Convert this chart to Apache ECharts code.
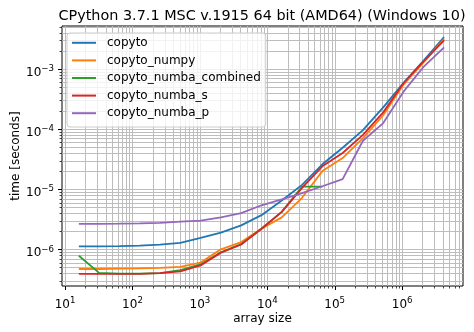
<!DOCTYPE html>
<html>
<head>
<meta charset="utf-8">
<script src="https://cdn.jsdelivr.net/npm/echarts@6/dist/echarts.min.js"></script>
<style>
  html, body { margin: 0; padding: 0; background: #fff; }
  #chart { width: 474px; height: 332px; }
</style>
</head>
<body>
<div id="chart"></div>
<script>
// Array sizes (powers of two) and measured copy times in seconds
const sizes = [16, 32, 64, 128, 256, 512, 1024, 2048, 4096, 8192, 16384, 32768,
  65536, 131072, 262144, 524288, 1048576, 2097152, 4194304];

const copyto = [1.12e-6, 1.12e-6, 1.13e-6, 1.15e-6, 1.2e-6, 1.28e-6, 1.55e-6, 1.9e-6,
  2.5e-6, 3.7e-6, 6.5e-6, 1.18e-5, 2.6e-5, 4.9e-5, 9.6e-5, 2.3e-4, 5.9e-4, 1.4e-3, 3.4e-3];

const copytoNumpy = [4.7e-7, 4.7e-7, 4.75e-7, 4.8e-7, 4.9e-7, 5.1e-7, 6.0e-7, 1.0e-6,
  1.32e-6, 2.2e-6, 3.4e-6, 7.2e-6, 2.0e-5, 3.3e-5, 7.1e-5, 1.7e-4, 5.5e-4, 1.3e-3, 3.15e-3];

const copytoNumbaCombined = [7.8e-7, 4.05e-7, 3.95e-7, 3.95e-7, 4.0e-7, 4.5e-7, 5.6e-7,
  8.9e-7, 1.22e-6, 2.2e-6, 4.2e-6, 1.1e-5, 1.1e-5];

const copytoNumbaS = [3.9e-7, 3.9e-7, 3.9e-7, 3.9e-7, 4.0e-7, 4.3e-7, 5.4e-7, 8.8e-7,
  1.2e-6, 2.2e-6, 4.2e-6, 1.05e-5, 2.4e-5, 4.0e-5, 8.0e-5, 1.9e-4, 5.8e-4, 1.35e-3, 3.0e-3];

const copytoNumbaP = [2.65e-6, 2.65e-6, 2.67e-6, 2.7e-6, 2.75e-6, 2.88e-6, 3.0e-6, 3.4e-6,
  4.0e-6, 5.4e-6, 6.8e-6, 8.6e-6, 1.12e-5, 1.47e-5, 6.4e-5, 1.26e-4, 4.2e-4, 1.1e-3, 2.3e-3];

const seriesNames = ['copyto', 'copyto_numpy', 'copyto_numba_combined', 'copyto_numba_s', 'copyto_numba_p'];
const seriesValues = [copyto, copytoNumpy, copytoNumbaCombined, copytoNumbaS, copytoNumbaP];
const seriesColors = ['#1f77b4', '#ff7f0e', '#2ca02c', '#d62728', '#9467bd'];

// Axis ranges
const xMin = 9.0, xMax = 8.0e6;
const yMin = 2.45e-7, yMax = 5.2e-3;

const FONT = 'DejaVu Sans';
const GRID_COLOR = '#bdbdbd';

// Decade ticks (major) and 2..9 multiples (minor) inside a range
function logTicks(lo, hi) {
  const out = [];
  for (let d = Math.floor(Math.log10(lo)); d <= Math.ceil(Math.log10(hi)); d++) {
    for (let k = 1; k <= 9; k++) {
      const v = k * Math.pow(10, d);
      if (v > lo && v < hi) out.push([v, k === 1 ? 1 : 0]);
    }
  }
  return out;
}
const xTicks = logTicks(xMin, xMax);
const yTicks = logTicks(yMin, yMax);

function px(v) { return Math.round(v) + 0.5; }

function renderXGrid(params, api) {
  const cs = params.coordSys;
  const x = px(api.coord([api.value(0), yMin])[0]);
  const major = api.value(2) === 1;
  const bottom = cs.y + cs.height;
  return {
    type: 'group',
    children: [
      { type: 'line', shape: { x1: x, y1: cs.y, x2: x, y2: bottom },
        style: { stroke: GRID_COLOR, lineWidth: 1 } },
      { type: 'line', shape: { x1: x, y1: bottom, x2: x, y2: bottom + (major ? 4 : 2.5) },
        style: { stroke: '#000', lineWidth: major ? 1 : 0.7 } }
    ]
  };
}

function renderYGrid(params, api) {
  const cs = params.coordSys;
  const y = px(api.coord([xMin, api.value(1)])[1]);
  const major = api.value(2) === 1;
  return {
    type: 'group',
    children: [
      { type: 'line', shape: { x1: cs.x, y1: y, x2: cs.x + cs.width, y2: y },
        style: { stroke: GRID_COLOR, lineWidth: 1 } },
      { type: 'line', shape: { x1: cs.x, y1: y, x2: cs.x - (major ? 4 : 2.5), y2: y },
        style: { stroke: '#000', lineWidth: major ? 1 : 0.7 } }
    ]
  };
}

function powLabel(v) {
  const e = Math.log10(v);
  const r = Math.round(e);
  if (Math.abs(e - r) > 1e-6) return '';
  const s = r < 0 ? '\u2212' + (-r) : String(r);
  return '{b|10}{s|' + s + '}';
}

const labelRich = {
  b: { fontFamily: FONT, fontSize: 12, color: '#000' },
  s: { fontFamily: FONT, fontSize: 8.6, color: '#000', padding: [0, 0, 8, 0] }
};

const lineSeries = seriesNames.map((name, i) => ({
  name: name,
  type: 'line',
  symbol: 'none',
  z: 3,
  color: seriesColors[i],
  lineStyle: { width: 1.8, color: seriesColors[i] },
  data: seriesValues[i].map((v, j) => [sizes[j], v])
}));

const chart = echarts.init(document.getElementById('chart'), null, { renderer: 'canvas' });
chart.setOption({
  animation: false,
  backgroundColor: '#fff',
  title: {
    text: 'CPython 3.7.1 MSC v.1915 64 bit (AMD64) (Windows 10)',
    left: 257,
    textAlign: 'center',
    top: 4,
    textStyle: { fontFamily: FONT, fontSize: 14.4, fontWeight: 'normal', color: '#000' }
  },
  grid: {
    left: 62, top: 26, right: 11, bottom: 46,
    show: true, borderColor: '#000', borderWidth: 1, backgroundColor: 'transparent'
  },
  legend: {
    data: seriesNames,
    orient: 'vertical',
    left: 67, top: 33,
    padding: [1, 5, 5, 5],
    itemGap: 0,
    itemWidth: 24,
    itemHeight: 2,
    icon: 'rect',
    backgroundColor: 'rgba(255,255,255,0.8)',
    borderColor: '#cccccc',
    borderWidth: 1,
    borderRadius: 3,
    textStyle: { fontFamily: FONT, fontSize: 12, color: '#000', lineHeight: 17.6, padding: [0, 0, 0, 6] }
  },
  xAxis: {
    type: 'log', logBase: 10, min: xMin, max: xMax,
    axisLine: { show: false },
    axisTick: { show: false },
    splitLine: { show: false },
    axisLabel: {
      formatter: powLabel, rich: labelRich, margin: 10,
      showMinLabel: false, showMaxLabel: false
    },
    name: 'array size',
    nameLocation: 'middle',
    nameGap: 27,
    nameMoveOverlap: false,
    nameTextStyle: { fontFamily: FONT, fontSize: 12, color: '#000' }
  },
  yAxis: {
    type: 'log', logBase: 10, min: yMin, max: yMax,
    axisLine: { show: false },
    axisTick: { show: false },
    splitLine: { show: false },
    axisLabel: {
      formatter: powLabel, rich: labelRich, margin: 8,
      padding: [8, 0, 0, 0],
      showMinLabel: false, showMaxLabel: false
    },
    name: 'time [seconds]',
    nameLocation: 'middle',
    nameGap: 40,
    nameMoveOverlap: false,
    nameTextStyle: { fontFamily: FONT, fontSize: 12, color: '#000' }
  },
  series: [
    { name: 'xgrid', type: 'custom', silent: true, clip: false, z: 1,
      renderItem: renderXGrid, data: xTicks.map(t => [t[0], yMin, t[1]]) },
    { name: 'ygrid', type: 'custom', silent: true, clip: false, z: 1,
      renderItem: renderYGrid, data: yTicks.map(t => [xMin, t[0], t[1]]) }
  ].concat(lineSeries)
});
</script>
</body>
</html>
